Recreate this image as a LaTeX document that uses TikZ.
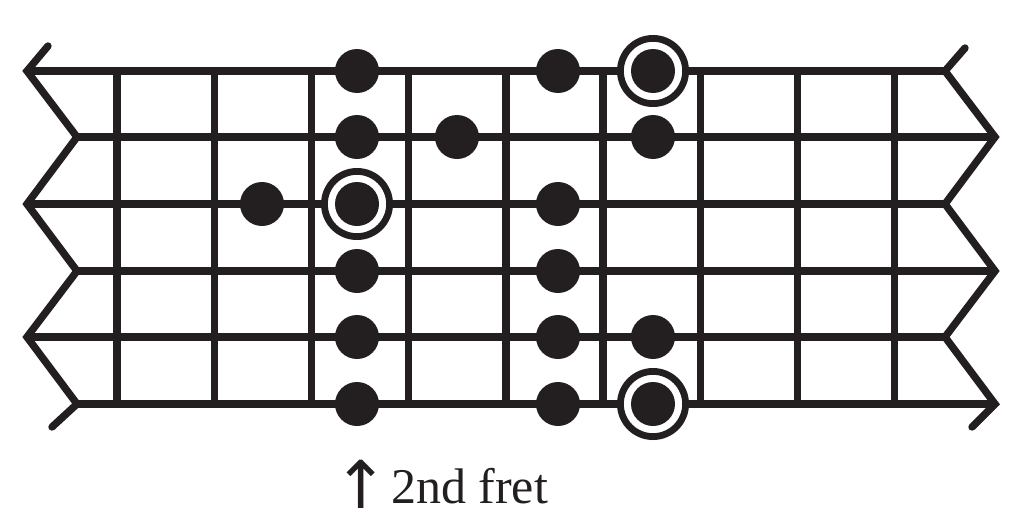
\documentclass[tikz,border=0pt]{standalone}
\usepackage{fontspec}
\setmainfont{Liberation Serif}
\newfontfamily\arrowfont{DejaVu Sans}
\usetikzlibrary{positioning}
\definecolor{ink}{HTML}{231F20}

\begin{document}
\begin{tikzpicture}[x=0.5pt,y=-0.5pt,
    line width=3.7pt, draw=ink,
    dot/.style={circle, fill=ink, inner sep=0pt, minimum size=22pt},
    ring/.style={circle, draw=ink, fill=white, line width=3.4pt, inner sep=0pt, minimum size=32.6pt}]
  \useasboundingbox (0,0) rectangle (1031,530);
  % strings
  \foreach \y in {71,204,337} \draw[ink] (27,\y) -- (945,\y);
  \foreach \y in {137,271,404} \draw[ink] (77,\y) -- (995,\y);
  % frets
  \foreach \k in {0,...,8} \draw[ink] (117+97.2*\k,71) -- (117+97.2*\k,404);
  % broken ends of the neck
  \draw[ink, line join=miter, line cap=round] (48,46) -- (27,71) -- (77,137) -- (27,204)
    -- (77,271) -- (27,337) -- (77,404) -- (52,427);
  \draw[ink, line join=miter, line cap=round] (965,48) -- (945,71) -- (995,137) -- (945,204)
    -- (995,271) -- (945,337) -- (995,404) -- (972,427);
  % root notes
  \node[ring] (r1) at (653,71) {};
  \node[ring] (r3) at (357,204) {};
  \node[ring] (r6) at (653,404) {};
  % scale notes
  \node[dot] (s1a) at (357,71) {};
  \node[dot] (s1b) at (558,71) {};
  \node[dot] (s1c) at (r1) {};
  \node[dot] (s2a) at (357,137) {};
  \node[dot] (s2b) at (457,137) {};
  \node[dot] (s2c) at (653,137) {};
  \node[dot] (s3a) at (262,204) {};
  \node[dot] (s3b) at (r3) {};
  \node[dot] (s3c) at (558,204) {};
  \node[dot] (s4a) at (357,271) {};
  \node[dot] (s4b) at (558,271) {};
  \node[dot] (s5a) at (357,337) {};
  \node[dot] (s5b) at (558,337) {};
  \node[dot] (s5c) at (653,337) {};
  \node[dot] (s6a) at (357,404) {};
  \node[dot] (s6b) at (558,404) {};
  \node[dot] (s6c) at (r6) {};
  \node[anchor=base west, inner sep=0pt, font=\fontsize{25pt}{30pt}\selectfont, text=ink]
    (fret) at (330,503) {\raisebox{-2.5pt}{\fontsize{33pt}{36pt}\arrowfont ↑}\hspace{1pt}2nd fret};
\end{tikzpicture}
\end{document}
